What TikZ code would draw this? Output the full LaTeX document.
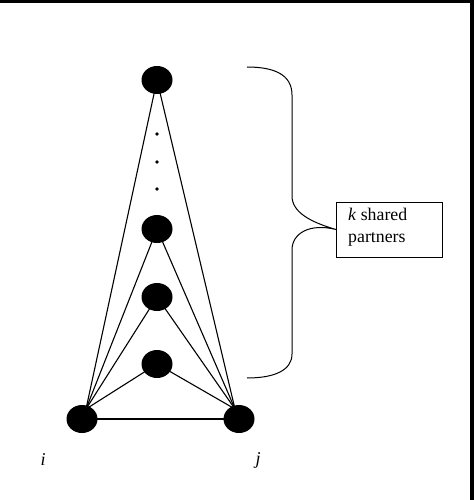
\documentclass[tikz,border=0pt]{standalone}
\usepackage{fontspec}
\setmainfont{Liberation Serif}
\usetikzlibrary{shapes.geometric,backgrounds}
\begin{document}
\begin{tikzpicture}[x=1pt,y=-1pt,
  vert/.style={ellipse,fill=black,minimum width=31pt,minimum height=28pt,inner sep=0pt},
  edge/.style={line width=1.1pt},
  smalldot/.style={circle,fill=black,minimum size=3.6pt,inner sep=0pt},
  lbl/.style={font=\fontsize{18}{21}\selectfont\itshape},
  bracebox/.style={draw,line width=0.8pt,minimum width=106pt,minimum height=55pt,inner sep=0pt}]
\useasboundingbox (0,0) rectangle (474,500);
% vertices
\node[vert] (t) at (157,80) {};
\node[vert] (a) at (157,229) {};
\node[vert] (b) at (157,297) {};
\node[vert] (c) at (157,364) {};
\node[vert] (i) at (82,419) {};
\node[vert] (j) at (239,419) {};
\coordinate (ih) at (86,409);
\coordinate (jh) at (235,409);
% dots
\node[smalldot] (d1) at (157,134) {};
\node[smalldot] (d2) at (157,162) {};
\node[smalldot] (d3) at (157,189) {};
% edges
\begin{scope}[on background layer]
\fill[white] (0,0) rectangle (474,500);
\fill[black] (0,0) rectangle (474,3);
\fill[black] (470,0) rectangle (474,500);
\foreach \n in {t,a,b,c} {
  \draw[edge] (ih) -- (\n.center);
  \draw[edge] (jh) -- (\n.center);
}
\draw[edge] (i.center) -- (j.center);
\end{scope}
% labels
\node[lbl] (li) at (43,460) {i};
\node[lbl] (lj) at (258,460) {j};
% box
\node[bracebox,anchor=west] (box) at (336,229.5) {};
\node[anchor=north west,align=left,inner sep=0pt,font=\fontsize{17.8}{22}\selectfont] (boxtext) at (348,208) {\textit{k} shared\\partners};
% brace
\coordinate (bt) at (247,67);
\coordinate (bb) at (247,378);
\draw[line width=1pt] (bt) .. controls (275,67) and (292,75) .. (292,95)
  -- (292,196) .. controls (292,212) and (310,222) .. (box.west)
  (box.west) .. controls (310,223) and (292,233) .. (292,250)
  -- (292,354) .. controls (292,370) and (275,378) .. (bb);
\end{tikzpicture}
\end{document}
